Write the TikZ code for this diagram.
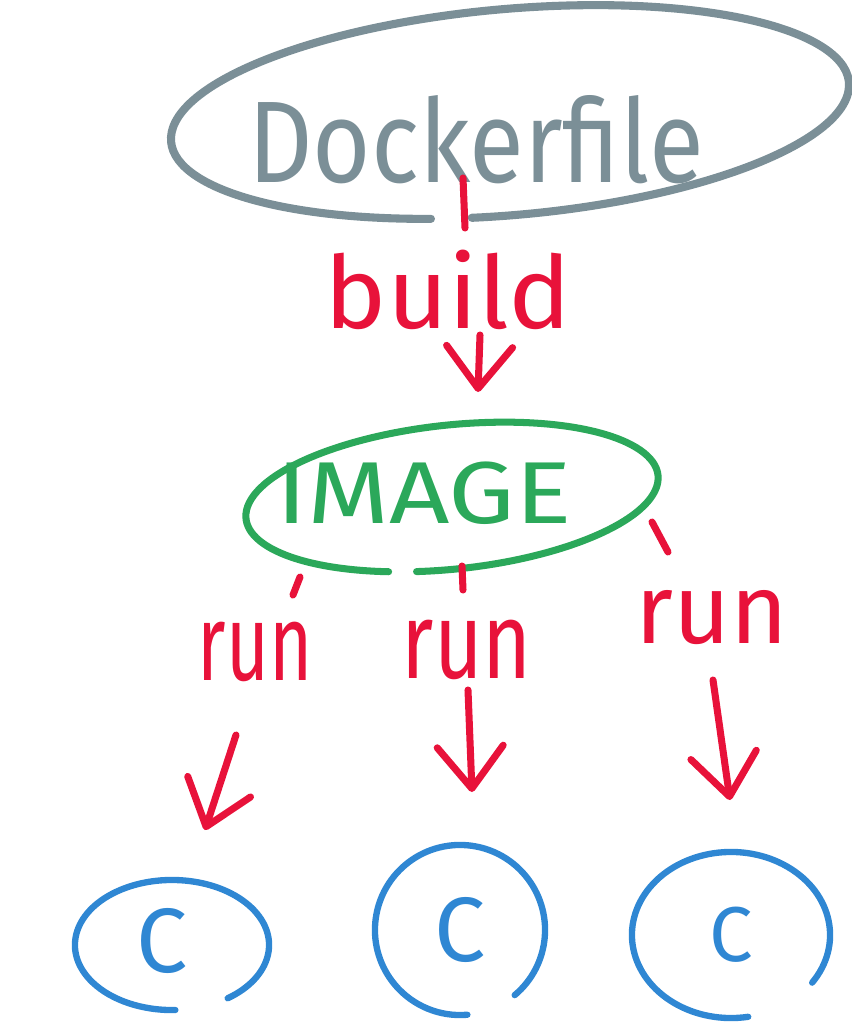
\documentclass[tikz,border=0pt]{standalone}
\usepackage{fontspec}
\setmainfont{Fira Sans}
\usetikzlibrary{arrows.meta,shapes.geometric}
\definecolor{dgray}{HTML}{7B8F97}
\definecolor{dred}{HTML}{E8123A}
\definecolor{dgreen}{HTML}{2BA85A}
\definecolor{dblue}{HTML}{2F87D3}
\begin{document}
\begin{tikzpicture}[x=0.01cm,y=-0.01cm,
  pen/.style={line width=2pt,line cap=round,line join=round},
  bpen/.style={line width=1.8pt,line cap=round,line join=round},
  tip/.style={-{Straight Barb[length=0.42cm,width=0.66cm,round]}},
  runlbl/.style={inner sep=0pt,text=dred,font=\fontsize{28}{28}\selectfont},
  ctr/.style={ellipse,inner sep=0pt,text=dblue,font=\fontsize{26}{26}\selectfont},
]
\useasboundingbox (0,0) rectangle (852,1024);

% Dockerfile
\node[inner sep=0pt,text=dgray] (dockerfile) at (476,140)
  {\fontsize{30}{30}\selectfont\scalebox{0.95}[1.1]{Dockerfile}};
\draw[pen,dgray,line width=2.3pt,rotate around={5:(510,112)}] (510,112) ++(262:3.4cm and 1.03cm)
  arc[start angle=262,end angle=615,x radius=3.4cm,y radius=1.03cm];

% build
\coordinate (t0a) at (463,178);
\coordinate (t0b) at (465,228);
\draw[pen,dred] (t0a) -- (t0b);
\node[inner sep=0pt,text=dred] (build) at (448,290)
  {\fontsize{26}{26}\selectfont\scalebox{1.15}[1.1]{build}};
\coordinate (b0a) at (480,335);
\coordinate (b0b) at (478,392);
\draw[pen,dred,tip] (b0a) -- (b0b);

% IMAGE
\node[inner sep=0pt,text=dgreen] (image) at (424,493)
  {\fontsize{25}{25}\selectfont\scalebox{1.2}[1]{IMAGE}};
\draw[pen,dgreen,rotate around={6:(452,497)}] (452,497) ++(258:2.07cm and 0.72cm)
  arc[start angle=258,end angle=610,x radius=2.07cm,y radius=0.72cm];

% ticks
\coordinate (t1a) at (300,577); \coordinate (t1b) at (293,595);
\coordinate (t2a) at (462,566); \coordinate (t2b) at (463,590);
\coordinate (t3a) at (652,522); \coordinate (t3b) at (668,552);
\draw[pen,dred] (t1a) -- (t1b);
\draw[pen,dred] (t2a) -- (t2b);
\draw[pen,dred] (t3a) -- (t3b);

% run labels
\node[runlbl] (run1) at (255,652) {\scalebox{0.75}[1.1]{run}};
\node[runlbl] (run2) at (467,650) {\scalebox{0.85}[1.1]{run}};
\node[runlbl] (run3) at (712,618) {\scalebox{1.0}[1.0]{run}};

% run arrows
\coordinate (a1a) at (236,735); \coordinate (a1b) at (205,830);
\coordinate (a2a) at (468,690); \coordinate (a2b) at (472,792);
\coordinate (a3a) at (713,680); \coordinate (a3b) at (730,800);
\draw[pen,dred,tip] (a1a) -- (a1b);
\draw[pen,dred,tip] (a2a) -- (a2b);
\draw[pen,dred,tip] (a3a) -- (a3b);

% containers
\node[ctr,minimum width=1.94cm,minimum height=1.3cm] (c1) at (172,945) {\raisebox{0.1cm}{\hspace*{-0.2cm}C}};
\node[ctr,minimum width=1.7cm,minimum height=1.7cm] (c2) at (460,930) {C};
\node[ctr,minimum width=1.98cm,minimum height=1.66cm] (c3) at (731,935) {\scalebox{0.85}{C}};
\draw[bpen,dblue] (c1.center) ++(-55:0.97cm and 0.65cm)
  arc[start angle=-55,end angle=272,x radius=0.97cm,y radius=0.65cm];
\draw[bpen,dblue] (c2.center) ++(-50:0.85cm and 0.85cm)
  arc[start angle=-50,end angle=275,x radius=0.85cm,y radius=0.85cm];
\draw[bpen,dblue] (c3.center) ++(-35:0.99cm and 0.83cm)
  arc[start angle=-35,end angle=280,x radius=0.99cm,y radius=0.83cm];
\end{tikzpicture}
\end{document}
